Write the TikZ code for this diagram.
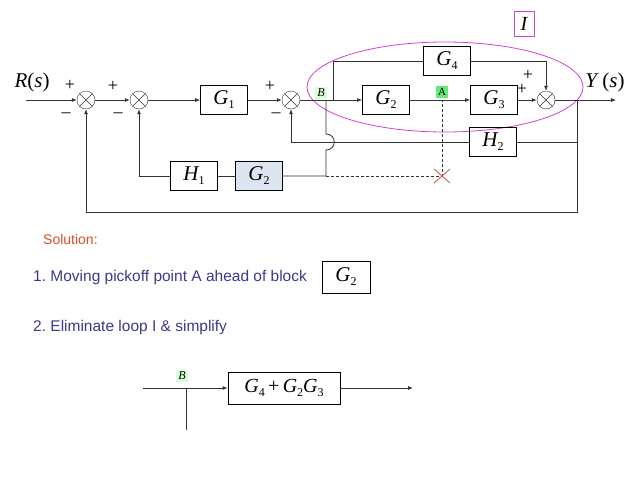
\documentclass[tikz,border=0pt]{standalone}
\usepackage{fontspec}
\setmainfont{Liberation Sans}
\newfontfamily\tms{Liberation Serif}
\usetikzlibrary{arrows.meta}
\frenchspacing
\definecolor{ln}{HTML}{333333}
\definecolor{mag}{HTML}{CC44CC}
\definecolor{sol}{HTML}{D0502A}
\definecolor{itm}{HTML}{3A3A8A}
\definecolor{bl}{HTML}{DCE6F2}
\newcommand{\Gs}[2]{{\tms\itshape #1}\raisebox{-4pt}{\tms\fontsize{12}{12}\selectfont #2}}
\tikzset{
 blk/.style={draw=black,thick,minimum width=47pt,minimum height=29pt,inner sep=0pt,font=\fontsize{21}{21}\selectfont},
 sumc/.style={draw=ln,circle,minimum size=18pt,inner sep=0pt,path picture={\draw[ln] (path picture bounding box.north west)--(path picture bounding box.south east) (path picture bounding box.north east)--(path picture bounding box.south west);}},
 wire/.style={draw=ln,thick},
 arr/.style={wire,-{Latex[length=5pt,width=4pt]}},
 sgn/.style={font=\tms\fontsize{18}{18}\selectfont,inner sep=0pt},
 lbl/.style={font=\tms\itshape\fontsize{12}{12}\selectfont,inner sep=2pt},
 txt/.style={anchor=west,inner sep=0pt,font=\fontsize{15.5}{15.5}\selectfont,text=itm}
}
\begin{document}
\begin{tikzpicture}[x=1pt,y=-1pt]
\useasboundingbox (0,0) rectangle (638,479);
% ellipse and I
\draw[mag,thick] (445,87) ellipse [x radius=138, y radius=45];
\node[draw=mag,thick,minimum width=20pt,minimum height=25pt,inner sep=0pt,font=\tms\itshape\fontsize{20}{20}\selectfont] (I) at (524,24) {I};
% sums
\node[sumc] (s1) at (86,100) {};
\node[sumc] (s2) at (139,100) {};
\node[sumc] (s3) at (291,100) {};
\node[sumc] (s4) at (546,100) {};
% blocks
\node[blk] (g1) at (224,100) {\Gs{G}{1}};
\node[blk] (g2) at (386,100) {\Gs{G}{2}};
\node[blk] (g3) at (494,100) {\Gs{G}{3}};
\node[blk] (g4) at (447,61) {\Gs{G}{4}};
\node[blk] (h2) at (493,142) {\Gs{H}{2}};
\node[blk] (h1) at (194,176) {\Gs{H}{1}};
\node[blk,fill=bl] (g2b) at (259,176) {\Gs{G}{2}};
% labels
\node[font=\tms\fontsize{21}{21}\selectfont,inner sep=0pt] (R) at (32,82) {\textit{R}(\textit{s})};
\node[font=\tms\fontsize{21}{21}\selectfont,inner sep=0pt] (Y) at (605,82) {\textit{Y}\,(\textit{s})};
\coordinate (rin) at (26,100);
\coordinate (yout) at (616,100);
\coordinate (pY) at (577,100);
\coordinate (pB) at (326,100);
\coordinate (pG4) at (333,100);
\coordinate (pA) at (442,100);
% forward path
\draw[arr] (rin) -- (s1);
\draw[arr] (s1) -- (s2);
\draw[arr] (s2) -- (g1);
\draw[arr] (g1) -- (s3);
\draw[arr] (s3) -- (g2);
\draw[arr] (g2) -- (g3);
\draw[arr] (g3) -- (s4);
\draw[arr] (s4) -- (yout);
% G4 branch
\draw[wire] (pG4) |- (g4.west);
\draw[arr] (g4.east) -| (s4.north);
% H2 loop
\draw[wire] (pY) |- (h2.east);
\draw[arr] (h2.west) -| (s3.south);
% outer loop
\draw[arr] (pY) |- (86,212) -- (s1.south);
% H1 loop with jump
\draw[wire] (pB) -- (326,134) .. controls (337,134) and (337,150) .. (326,150) -- (326,176) -- (g2b.east);
\draw[wire] (g2b) -- (h1);
\draw[arr] (h1.west) -| (s2.south);
% moved pickoff (dotted)
\coordinate (xm) at (442,176);
\draw[ln,densely dashed,thin] (326,176) -- (xm) -- (pA);
\draw[sol,thick] (434,169) -- (450,183) (434,183) -- (450,169);
\node[lbl,fill=green!15] (B) at (321,93) {B};
\node[lbl,fill=green!70!teal!60,font=\tms\fontsize{11}{11}\selectfont] (A) at (442,92) {A};
% signs
\node[sgn] at (70,85) {+};
\node[sgn] at (66,115) {\textendash};
\node[sgn] at (113,86) {+};
\node[sgn] at (118,115) {\textendash};
\node[sgn] at (270,86) {+};
\node[sgn] at (276,115) {\textendash};
\node[sgn] at (528,75) {+};
\node[sgn] at (522,89) {+};
% solution text
\node[anchor=west,inner sep=0pt,font=\fontsize{14}{14}\selectfont,text=sol] (sl) at (43,239) {Solution:};
\node[txt] (t1) at (33,277) {1. Moving pickoff point A ahead of block};
\node[draw=black,thick,minimum width=48pt,minimum height=32pt,inner sep=0pt,font=\fontsize{21}{21}\selectfont] (g2c) at (346,277) {\Gs{G}{2}};
\node[txt] (t2) at (33,327) {2. Eliminate loop I \& simplify};
% simplified block
\node[draw=black,thick,minimum width=112pt,minimum height=32pt,inner sep=0pt,font=\tms\fontsize{20}{20}\selectfont] (gs) at (284,388) {\Gs{G}{4}\,+\,\Gs{G}{2}\Gs{G}{3}};
\coordinate (bin) at (143,388);
\coordinate (bp) at (186,388);
\coordinate (bdn) at (186,430);
\coordinate (bout) at (413,388);
\draw[arr] (bin) -- (gs);
\draw[wire] (bp) -- (bdn);
\draw[arr] (gs) -- (bout);
\node[lbl,fill=green!15] (B2) at (182,376) {B};
\end{tikzpicture}
\end{document}
